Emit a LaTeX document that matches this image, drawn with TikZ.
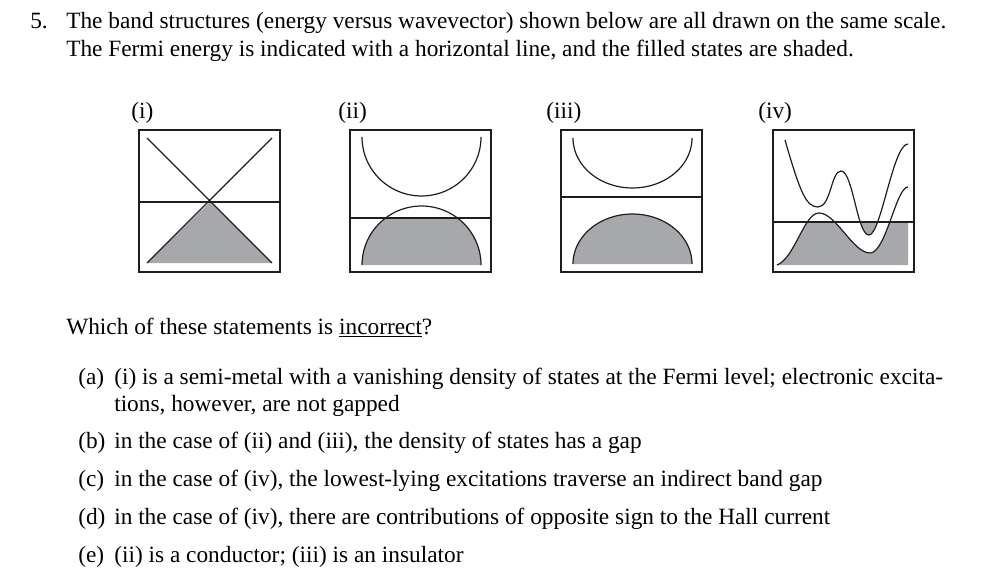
\documentclass[tikz,border=0pt]{standalone}
\usepackage{fontspec}
\setmainfont{Liberation Serif}
\definecolor{bandgray}{RGB}{167,168,172}
\definecolor{ink}{RGB}{30,30,30}
\begin{document}
\begin{tikzpicture}[x=0.75pt,y=-0.75pt,
  txt/.style={anchor=base west,inner sep=0pt,font=\fontsize{17.5}{20}\selectfont},
  box/.style={draw=ink,line width=1pt},
  band/.style={draw=ink,line width=0.9pt},
  fermi/.style={draw=ink,line width=1pt}]
\useasboundingbox (0,0) rectangle (991,577);
\def\upper{(785,140) .. controls (800,192) and (806,207) .. (818,207) .. controls (831,207) and (831,171) .. (841,171) .. controls (853,171) and (857,235) .. (869,235) .. controls (881,235) and (893,144) .. (908,144)}
\def\lower{(777,265) .. controls (795,258) and (804,213) .. (819,213) .. controls (836,213) and (853,253) .. (870,253) .. controls (886,253) and (896,187) .. (908,187)}
\node[txt] (n5) at (30,29) {5.};
\node[txt] (l1) at (66,29) {The band structures (energy versus wavevector) shown below are all drawn on the same scale.};
\node[txt] (l2) at (66,57) {The Fermi energy is indicated with a horizontal line, and the filled states are shaded.};
\node[txt] (la) at (131,119) {(i)};
\node[txt] (lb) at (338,119) {(ii)};
\node[txt] (lc) at (546,119) {(iii)};
\node[txt] (ld) at (758,119) {(iv)};
% (i)
\fill[bandgray] (210,202) -- (272,263) -- (147,263) -- cycle;
\draw[band] (147,138) -- (272,263) (272,138) -- (147,263);
\draw[fermi] (139,202) -- (280,202);
\draw[box] (139,130) rectangle (280,272);
% (ii)
\begin{scope}
\clip (350,218) rectangle (491,272);
\fill[bandgray] (362,265) -- plot[domain=180:0,samples=60] ({421.5+59.5*cos(\x)},{265-59*sin(\x)}) -- cycle;
\end{scope}
\draw[band] plot[domain=180:360,samples=60] ({421.5+59.5*cos(\x)},{137-59*sin(\x)});
\draw[band] plot[domain=0:180,samples=60] ({421.5+59.5*cos(\x)},{265-59*sin(\x)});
\draw[fermi] (350,218) -- (491,218);
\draw[box] (350,130) rectangle (491,272);
% (iii)
\fill[bandgray] (573,264) -- plot[domain=180:0,samples=60] ({632.5+59.5*cos(\x)},{264-50*sin(\x)}) -- cycle;
\draw[band] plot[domain=180:360,samples=60] ({632.5+59.5*cos(\x)},{138-50*sin(\x)});
\draw[band] plot[domain=0:180,samples=60] ({632.5+59.5*cos(\x)},{264-50*sin(\x)});
\draw[fermi] (561,197) -- (702,197);
\draw[box] (561,130) rectangle (702,272);
% (iv)
\begin{scope}
\clip (777,222) rectangle (908,265);
\fill[bandgray] \lower -- (908,265) -- cycle;
\fill[bandgray] \upper -- (908,100) -- (785,100) -- cycle;
\end{scope}
\draw[band] \upper;
\draw[band] \lower;
\draw[fermi] (773,222) -- (914,222);
\draw[box] (773,130) rectangle (914,272);
% questions
\node[txt] (q) at (66,334) {Which of these statements is \underline{incorrect}?};
\node[txt] (a) at (78,384) {(a)};
\node[txt] (at) at (114,384) {(i) is a semi-metal with a vanishing density of states at the Fermi level; electronic excita-};
\node[txt] (at2) at (114,411) {tions, however, are not gapped};
\node[txt] (b) at (78,448) {(b)};
\node[txt] (bt) at (114,448) {in the case of (ii) and (iii), the density of states has a gap};
\node[txt] (c) at (78,486) {(c)};
\node[txt] (ct) at (114,486) {in the case of (iv), the lowest-lying excitations traverse an indirect band gap};
\node[txt] (d) at (78,524) {(d)};
\node[txt] (dt) at (114,524) {in the case of (iv), there are contributions of opposite sign to the Hall current};
\node[txt] (e) at (78,562) {(e)};
\node[txt] (et) at (114,562) {(ii) is a conductor; (iii) is an insulator};
\end{tikzpicture}
\end{document}
